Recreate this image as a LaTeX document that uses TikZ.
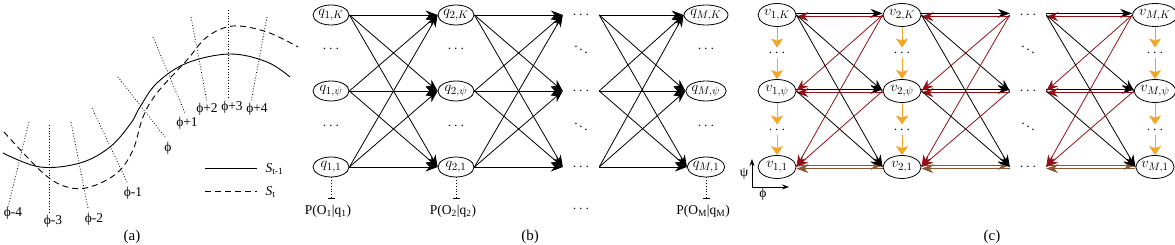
\documentclass[tikz,border=0pt]{standalone}
\usepackage{fontspec}
\setmainfont{Liberation Serif}
\usetikzlibrary{arrows.meta,shapes.geometric}

\definecolor{fwdred}{RGB}{150,15,22}
\definecolor{lineorange}{RGB}{245,165,40}
\definecolor{rowbrown}{RGB}{135,88,50}

\begin{document}
\begin{tikzpicture}[x=1pt,y=-1pt,>={Stealth[length=12pt,width=9pt]},
	font=\fontsize{13.5}{16}\selectfont,
	qstate/.style={draw,ellipse,line width=0.8pt,minimum width=36pt,minimum height=20pt,inner sep=0pt,font=\fontsize{15}{17}\selectfont},
	vstate/.style={draw,ellipse,line width=0.8pt,minimum width=38pt,minimum height=23pt,inner sep=0pt,font=\fontsize{15}{17}\selectfont},
	dotstate/.style={ellipse,minimum width=36pt,minimum height=20pt,inner sep=0pt},
	trans/.style={->,line width=0.8pt},
	back/.style={->,line width=0.8pt,fwdred},
	down/.style={-{Stealth[length=9pt,width=12pt,inset=2pt]},line width=1pt,lineorange},
	emit/.style={dotted,line width=0.8pt,-{Bar[width=7pt,line width=0.8pt]}},
	normal/.style={dotted,line width=0.8pt}]
	
	\useasboundingbox (0,0) rectangle (1175,245);
	
	%----------------------
	% Parameters
	%----------------------
	\def\rK{15}     % top row
	\def\rP{91}     % middle row
	\def\rI{167}    % bottom row
	
	%----------------------
	% (a) the two shapes
	%----------------------
	\draw[line width=0.9pt] plot[smooth,tension=0.6] coordinates {(3,153) (40,167) (80,163) (110,147) (131,123) (140,107) (157,83) (187,63) (230,54) (267,62) (290,77)};
	\draw[line width=0.9pt,dash pattern=on 6pt off 4pt] plot[smooth,tension=0.6] coordinates {(4,132) (43,173) (67,187) (90,187) (117,173) (133,150) (143,117) (157,93) (187,60) (207,37) (233,26) (267,32) (298,47)};
	
	% normals with their labels
	\foreach \xa/\ya/\xb/\yb/\lab/\lx/\ly in {29/122/8/207/-4/13/213, 49/125/49/213/-3/53/221,
		71/122/88/208/-2/94/219, 92/108/127/182/-1/133/193, 118/77/165/137//168/148,
		153/37/185/113/+1/187/123, 191/17/207/102/+2/207/109, 228/10/228/98/+3/232/107,
		267/17/251/102/+4/257/109}{
		\draw[normal] (\xa,\ya) -- (\xb,\yb);
		\node[inner sep=0pt] (phi\lab) at (\lx,\ly) {ϕ\lab};
	}
	
	% legend
	\draw[line width=0.9pt] (205,168) -- (257,168);
	\node[anchor=west] (legold) at (262,169) {\textit{S}\textsubscript{t-1}};
	\draw[line width=0.9pt,dash pattern=on 6pt off 4pt] (205,191) -- (257,191);
	\node[anchor=west] (legnew) at (262,192) {\textit{S}\textsubscript{t}};
	
	\node[font=\fontsize{15}{17}\selectfont] (capa) at (132,237) {(a)};
	
	%----------------------
	% (b) trellis of states
	%----------------------
	\foreach \i/\x in {1/331,2/456,M/706}{
		\foreach \r/\y/\l in {K/\rK/K,P/\rP/\psi,I/\rI/1}
		\node[qstate] (q\i-\r) at (\x,\y) {$q_{\i,\l}$};
		\node (qda\i) at (\x,49) {$\cdots$};
		\node (qdb\i) at (\x,126) {$\cdots$};
		\draw[emit] (q\i-I.south) -- ++(0,21);
		\node (p\i) at (\x-3,211) {P(O\textsubscript{\i}|q\textsubscript{\i})};
	}
	\foreach \r/\y in {K/\rK,P/\rP,I/\rI}
	\node[dotstate] (q3-\r) at (581,\y) {$\cdots$};
	\node (qda3) at (581,47) {$\ddots$};
	\node (qdb3) at (581,124) {$\ddots$};
	\node (p3) at (581,209) {$\cdots$};
	
	\foreach \a/\b in {1/2,2/3,3/M}
	\foreach \s in {K,P,I}
	\foreach \t in {K,P,I}
	\draw[trans] (q\a-\s.east) -- (q\b-\t.west);
	
	\node[font=\fontsize{15}{17}\selectfont] (capb) at (530,237) {(b)};
	
	%----------------------
	% (c) forward and backward passes
	%----------------------
	\foreach \i/\x in {1/777,2/902,M/1155}{
		\foreach \r/\y/\l in {K/\rK/K,P/\rP/\psi,I/\rI/1}
		\node[vstate] (v\i-\r) at (\x,\y) {$v_{\i,\l}$};
		\node[inner sep=2pt] (vda\i) at (\x,53) {$\cdots$};
		\node[inner sep=2pt] (vdb\i) at (\x,130) {$\cdots$};
		\draw[down] (v\i-K.south) -- (vda\i.north);
		\draw[down] (vda\i.south) -- (v\i-P.north);
		\draw[down] (v\i-P.south) -- (vdb\i.north);
		\draw[down] (vdb\i.south) -- (v\i-I.north);
	}
	\foreach \r/\y in {K/\rK,P/\rP,I/\rI}
	\node[dotstate] (v3-\r) at (1028,\y) {$\cdots$};
	\node (vda3) at (1028,47) {$\ddots$};
	\node (vdb3) at (1028,124) {$\ddots$};
	
	\foreach \a/\b in {1/2,2/3,3/M}{
		% rows: forward on top, backward below
		\foreach \r in {K,P}{
			\draw[trans] ([yshift=1.6pt]v\a-\r.east) -- ([yshift=1.6pt]v\b-\r.west);
			\draw[back] ([yshift=-1.6pt]v\b-\r.west) -- ([yshift=-1.6pt]v\a-\r.east);
		}
		\draw[trans,rowbrown] ([yshift=1.6pt]v\a-I.east) -- ([yshift=1.6pt]v\b-I.west);
		\draw[trans,rowbrown] ([yshift=-1.6pt]v\b-I.west) -- ([yshift=-1.6pt]v\a-I.east);
		% diagonals
		\foreach \s/\t in {K/P,K/I,P/I}{
			\draw[trans] (v\a-\s.east) -- (v\b-\t.west);
			\draw[back] (v\b-\s.west) -- (v\a-\t.east);
		}
	}
	
	% axes
	\coordinate (ax) at (752,187);
	\draw[->,>={Stealth[length=7pt,width=5pt]},line width=0.8pt] (ax) -- ++(0,-28);
	\draw[->,>={Stealth[length=7pt,width=5pt]},line width=0.8pt] (ax) -- ++(37,0);
	\node[inner sep=0pt] (axpsi) at (744,174) {ψ};
	\node[inner sep=0pt] (axphi) at (763,194) {ϕ};
	
	\node[font=\fontsize{15}{17}\selectfont] (capc) at (992,237) {(c)};
	
\end{tikzpicture}
\end{document}
